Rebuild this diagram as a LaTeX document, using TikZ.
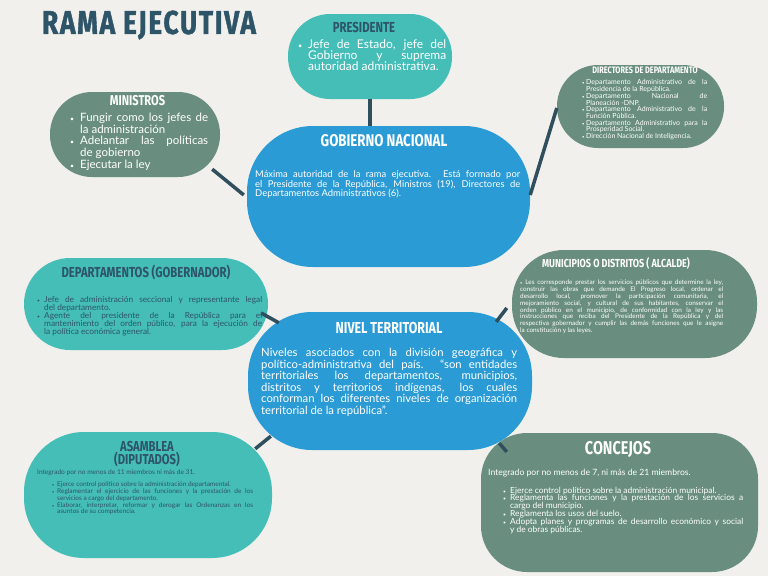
\documentclass[tikz,border=0pt]{standalone}
\usepackage{fontspec}
\setmainfont{Lato}
\newfontfamily\headfont{Fira Sans}[FakeStretch=0.78]
\newfontfamily\titlefont{Fira Sans}[FakeStretch=0.8, FakeBold=1.2, LetterSpace=5]
\usetikzlibrary{calc}
\definecolor{bg}{HTML}{F1F0EC}
\definecolor{tealc}{HTML}{45BEB8}
\definecolor{sage}{HTML}{698E7F}
\definecolor{bluec}{HTML}{2B9BD5}
\definecolor{navy}{HTML}{2E5468}
\definecolor{linec}{HTML}{2F4E5E}
\newcommand{\hitem}[2]{\par\noindent\hangindent=#1\hangafter=1\makebox[#1][l]{\scalebox{0.6}{\textbullet}}\ignorespaces#2\par}
\begin{document}
\begin{tikzpicture}[x=1pt,y=-1pt,
  blob/.style={rectangle, rounded corners=#1pt, inner sep=0pt, draw=none},
  conn/.style={draw=linec, line width=3.5pt},
  head/.style={inner sep=0pt, font=\headfont\bfseries\fontsize{#1}{#1}\selectfont},
  txt/.style={inner sep=0pt, anchor=north west, align=justify},
]
\fill[bg] (0,0) rectangle (768,576);
\useasboundingbox (0,0) rectangle (768,576);
\tolerance=10000 \hbadness=10000
% blobs
\node[blob=42, fill=tealc, minimum width=164pt, minimum height=85pt] (pres) at (370,56.5) {};
\node[blob=42, fill=sage, minimum width=170pt, minimum height=85pt] (min) at (135,134.5) {};
\node[blob=41, fill=sage, minimum width=167pt, minimum height=83pt] (dir) at (640.5,106.5) {};
\node[blob=66, fill=bluec, minimum width=283pt, minimum height=141pt] (gob) at (388.5,196.5) {};
\node[blob=46, fill=tealc, minimum width=244pt, minimum height=92pt] (dep) at (146,304) {};
\node[blob=52, fill=sage, minimum width=245pt, minimum height=108pt] (mun) at (634.5,304) {};
\node[blob=64, fill=bluec, minimum width=284pt, minimum height=138pt] (niv) at (390,381) {};
\node[blob=60, fill=tealc, minimum width=248pt, minimum height=126pt] (asa) at (148,495) {};
\node[blob=46, fill=sage, minimum width=277pt, minimum height=139pt] (con) at (619.5,502.5) {};
% connectors
\draw[conn] (pres.south) -- (pres.south |- gob.north);
\draw[conn] ($(min.south east)+(-8,-8)$) -- ($(gob.west)+(-3,-1.5)$);
\draw[conn] ($(dir.west)+(0,1.5)$) -- ($(gob.east)+(0,-1.5)$);
\draw[conn] ($(dep.east)+(-7,9)$) -- ($(niv.north west)+(31,11)$);
\draw[conn] ($(mun.west)+(-5,4)$) -- ($(niv.north east)+(-36,10)$);
\draw[conn] ($(asa.north east)+(-17,17)$) -- ($(niv.south west)+(23,-14)$);
\draw[conn] ($(con.north west)+(26,19)$) -- ($(niv.south east)+(-33,-7)$);
% title
\node[inner sep=0pt, text=navy, font=\titlefont\bfseries\fontsize{33}{33}\selectfont] (title) at (149,25) {RAMA EJECUTIVA};
% presidente
\node[head=14.5, text=navy] (prest) at (364,27) {PRESIDENTE};
\node[txt, text width=148pt, text=white, font=\fontsize{12}{11.2}\selectfont] (presb) at (298,37)
  {\hitem{10pt}{Jefe de Estado, jefe del\linebreak Gobierno y suprema\linebreak autoridad administrativa.}};
% ministros
\node[head=14.2, text=white] (mint) at (137.5,101) {MINISTROS};
\node[txt, text width=138pt, text=white, font=\fontsize{11.5}{11.7}\selectfont] (minb) at (70,109.5)
  {\hitem{10pt}{Fungir como los jefes de\linebreak la administración}\hitem{10pt}{Adelantar las políticas\linebreak de gobierno}\hitem{10pt}{Ejecutar la ley}};
% gobierno
\node[head=17, text=white] (gobt) at (384,141) {GOBIERNO NACIONAL};
\node[txt, text width=265pt, text=white, font=\fontsize{9.4}{9}\selectfont] (gobb) at (255,170.5)
  {\noindent Máxima autoridad de la rama ejecutiva. Está formado por\linebreak el Presidente de la República, Ministros (19), Directores de\linebreak Departamentos Administrativos (6).};
% directores
\node[head=9.4, text=white] (dirt) at (645,70) {DIRECTORES DE DEPARTAMENTO};
\node[txt, text width=125pt, text=white, font=\fontsize{7}{6.7}\selectfont] (dirb) at (582,78)
  {\hitem{4pt}{Departamento Administrativo de la\linebreak Presidencia de la República.}%
   \hitem{4pt}{Departamento Nacional de\linebreak Planeación -DNP.}%
   \hitem{4pt}{Departamento Administrativo de la\linebreak Función Pública.}%
   \hitem{4pt}{Departamento Administrativo para la\linebreak Prosperidad Social.}%
   \hitem{4pt}{Dirección Nacional de Inteligencia.}};
% departamentos
\node[head=14.5, text=navy] (dept) at (146,272) {DEPARTAMENTOS (GOBERNADOR)};
\node[txt, text width=225pt, text=navy, font=\fontsize{8.3}{8}\selectfont] (depb) at (37,294)
  {\hitem{7pt}{Jefe de administración seccional y representante legal\linebreak del departamento.}%
   \hitem{7pt}{Agente del presidente de la República para el\linebreak mantenimiento del orden público, para la ejecución de\linebreak la política económica general.}};
% municipios
\node[head=11.6, text=white] (munt) at (616,263) {MUNICIPIOS O DISTRITOS ( ALCALDE)};
\node[txt, text width=203pt, text=white, font=\fontsize{6.4}{6.8}\selectfont] (munb) at (520,280)
  {\noindent\scalebox{0.6}{\textbullet}\hspace{3pt}Les corresponde prestar los servicios públicos que determine la ley,\linebreak construir las obras que demande El Progreso local, ordenar el\linebreak desarrollo local, promover la participación comunitaria, el\linebreak mejoramiento social, y cultural de sus habitantes, conservar el\linebreak orden público en el municipio, de conformidad con la ley y las\linebreak instrucciones que reciba del Presidente de la República y del\linebreak respectiva gobernador y cumplir las demás funciones que le asigne\linebreak la constitución y las leyes.};
% nivel territorial
\node[head=15.9, text=white] (nivt) at (389,328) {NIVEL TERRITORIAL};
\node[txt, text width=256pt, text=white, font=\fontsize{11.3}{11.6}\selectfont] (nivb) at (261,348)
  {\noindent Niveles asociados con la división geográfica y\linebreak político-administrativa del país. “son entidades\linebreak territoriales los departamentos, municipios,\linebreak distritos y territorios indígenas, los cuales\linebreak conforman los diferentes niveles de organización\linebreak territorial de la república”.};
% asamblea
\node[inner sep=0pt, text=navy, align=center, font=\headfont\bfseries\fontsize{14.4}{13}\selectfont] (asat) at (147,454) {ASAMBLEA\\(DIPUTADOS)};
\node[inner sep=0pt, anchor=base west, text=navy, font=\fontsize{6.6}{7}\selectfont] (asai) at (37,474.5)
  {Integrado por no menos de 11 miembros ni más de 31.};
\node[txt, text width=201pt, text=navy, font=\fontsize{6.5}{6.75}\selectfont] (asab) at (52,480)
  {\hitem{5pt}{Ejerce control político sobre la administración departamental.}%
   \hitem{5pt}{Reglamentar el ejercicio de las funciones y la prestación de los\linebreak servicios a cargo del departamento.}%
   \hitem{5pt}{Elaborar, interpretar, reformar y derogar las Ordenanzas en los\linebreak asuntos de su competencia.}};
% concejos
\node[head=18.5, text=white] (cont) at (618,449) {CONCEJOS};
\node[inner sep=0pt, anchor=base west, text=white, font=\fontsize{8.6}{9}\selectfont] (coni) at (488,475)
  {Integrado por no menos de 7, ni más de 21 miembros.};
\node[txt, text width=240pt, text=white, font=\fontsize{8.4}{7.8}\selectfont] (conb) at (503,485)
  {\hitem{7pt}{Ejerce control político sobre la administración municipal.}%
   \hitem{7pt}{Reglamenta las funciones y la prestación de los servicios a\linebreak cargo del municipio.}%
   \hitem{7pt}{Reglamenta los usos del suelo.}%
   \hitem{7pt}{Adopta planes y programas de desarrollo económico y social\linebreak y de obras públicas.}};
\end{tikzpicture}
\end{document}
